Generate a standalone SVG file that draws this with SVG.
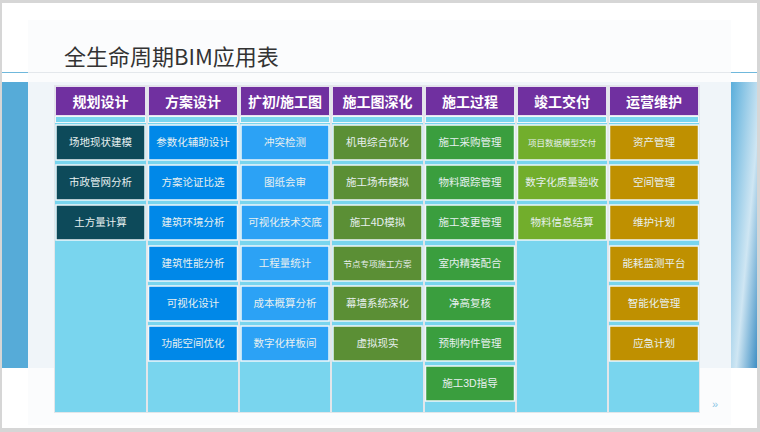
<svg xmlns="http://www.w3.org/2000/svg" width="760" height="432" viewBox="0 0 760 432">
<defs>
<style>
.h{fill:#7030A0;stroke:#e6e0ee;stroke-width:1}
.ht{font-family:"Liberation Sans","Noto Sans CJK SC",sans-serif;font-size:14px;font-weight:bold;fill:#fff;text-anchor:middle}
.bg{fill:#79D5EE}
.c{stroke:#eef6fa;stroke-width:1.5}
.t{font-family:"Liberation Sans","Noto Sans CJK SC",sans-serif;font-size:10.5px;fill:#e8f0f0;text-anchor:middle}
.s{font-size:8.5px}
</style>
<linearGradient id="rg" x1="0" y1="0" x2="1" y2="1"><stop offset="0" stop-color="#5aaedb"/><stop offset="0.6" stop-color="#cfe6f3"/><stop offset="1" stop-color="#3e8fc4"/></linearGradient>
</defs>
<rect width="760" height="432" fill="#d6d6d6"/>
<rect x="2" y="3" width="755" height="425" fill="#fff"/>
<rect x="2" y="82" width="26" height="286" fill="#56ABD8"/>
<rect x="731" y="82" width="26" height="286" fill="url(#rg)"/>
<rect x="28" y="20" width="703" height="405" fill="#fbfcfd"/>
<rect x="28" y="82" width="703" height="286" fill="#f0f5f9"/>
<line x1="2" y1="72.5" x2="757" y2="72.5" stroke="#6fb8dc" stroke-width="1"/>
<line x1="28" y1="72.5" x2="731" y2="72.5" stroke="#e4e8ec" stroke-width="1"/>
<text x="64" y="65" font-family="'Noto Sans CJK SC',sans-serif" font-size="22" fill="#333">全生命周期BIM应用表</text>
<text x="712" y="408" font-family="'Liberation Sans',sans-serif" font-size="11" fill="#8cc7e6">»</text>
<rect x="54" y="85" width="646" height="328" fill="#e2e6ea"/>
<g id="col1">
<rect class="bg" x="55" y="86" width="91" height="326"/>
<rect class="h" x="55.5" y="86.5" width="90" height="29"/><text class="ht" x="100.5" y="107">规划设计</text>
<rect x="55" y="116" width="91" height="7" fill="#f0f6f9"/><rect class="bg" x="56" y="117" width="89" height="5"/>
<rect class="c" x="56" y="125" width="89" height="35" fill="#0D4A5A"/><text class="t" x="100.5" y="146">场地现状建模</text>
<rect class="c" x="56" y="165" width="89" height="35" fill="#0D4A5A"/><text class="t" x="100.5" y="186">市政管网分析</text>
<rect class="c" x="56" y="205" width="89" height="35" fill="#0D4A5A"/><text class="t" x="100.5" y="226">土方量计算</text>
</g>
<g id="col2">
<rect class="bg" x="148" y="86" width="90" height="326"/>
<rect class="h" x="148.5" y="86.5" width="89" height="29"/><text class="ht" x="193" y="107">方案设计</text>
<rect x="148" y="116" width="90" height="7" fill="#f0f6f9"/><rect class="bg" x="149" y="117" width="88" height="5"/>
<rect class="c" x="148.5" y="125" width="89" height="35" fill="#0088E8"/><text class="t" x="193" y="146">参数化辅助设计</text>
<rect class="c" x="148.5" y="165" width="89" height="35" fill="#0088E8"/><text class="t" x="193" y="186">方案论证比选</text>
<rect class="c" x="148.5" y="205" width="89" height="35" fill="#0088E8"/><text class="t" x="193" y="226">建筑环境分析</text>
<rect class="c" x="148.5" y="246" width="89" height="35" fill="#0088E8"/><text class="t" x="193" y="267">建筑性能分析</text>
<rect class="c" x="148.5" y="286" width="89" height="35" fill="#0088E8"/><text class="t" x="193" y="307">可视化设计</text>
<rect class="c" x="148.5" y="326" width="89" height="35" fill="#0088E8"/><text class="t" x="193" y="347">功能空间优化</text>
</g>
<g id="col3">
<rect class="bg" x="240" y="86" width="90" height="326"/>
<rect class="h" x="240.5" y="86.5" width="89" height="29"/><text class="ht" x="285" y="107">扩初/施工图</text>
<rect x="240" y="116" width="90" height="7" fill="#f0f6f9"/><rect class="bg" x="241" y="117" width="88" height="5"/>
<rect class="c" x="241" y="125" width="88" height="35" fill="#2CA2F5"/><text class="t" x="285" y="146">冲突检测</text>
<rect class="c" x="241" y="165" width="88" height="35" fill="#2CA2F5"/><text class="t" x="285" y="186">图纸会审</text>
<rect class="c" x="241" y="205" width="88" height="35" fill="#2CA2F5"/><text class="t" x="285" y="226">可视化技术交底</text>
<rect class="c" x="241" y="246" width="88" height="35" fill="#2CA2F5"/><text class="t" x="285" y="267">工程量统计</text>
<rect class="c" x="241" y="286" width="88" height="35" fill="#2CA2F5"/><text class="t" x="285" y="307">成本概算分析</text>
<rect class="c" x="241" y="326" width="88" height="35" fill="#2CA2F5"/><text class="t" x="285" y="347">数字化样板间</text>
</g>
<g id="col4">
<rect class="bg" x="332" y="86" width="91" height="326"/>
<rect class="h" x="332.5" y="86.5" width="90" height="29"/><text class="ht" x="377.5" y="107">施工图深化</text>
<rect x="332" y="116" width="91" height="7" fill="#f0f6f9"/><rect class="bg" x="333" y="117" width="89" height="5"/>
<rect class="c" x="333" y="125" width="89" height="35" fill="#5B8F35"/><text class="t" x="377.5" y="146">机电综合优化</text>
<rect class="c" x="333" y="165" width="89" height="35" fill="#5B8F35"/><text class="t" x="377.5" y="186">施工场布模拟</text>
<rect class="c" x="333" y="205" width="89" height="35" fill="#5B8F35"/><text class="t" x="377.5" y="226">施工4D模拟</text>
<rect class="c" x="333" y="246" width="89" height="35" fill="#5B8F35"/><text class="t s" x="377.5" y="267">节点专项施工方案</text>
<rect class="c" x="333" y="286" width="89" height="35" fill="#5B8F35"/><text class="t" x="377.5" y="307">幕墙系统深化</text>
<rect class="c" x="333" y="326" width="89" height="35" fill="#5B8F35"/><text class="t" x="377.5" y="347">虚拟现实</text>
</g>
<g id="col5">
<rect class="bg" x="425" y="86" width="90" height="326"/>
<rect class="h" x="425.5" y="86.5" width="89" height="29"/><text class="ht" x="470" y="107">施工过程</text>
<rect x="425" y="116" width="90" height="7" fill="#f0f6f9"/><rect class="bg" x="426" y="117" width="88" height="5"/>
<rect class="c" x="425.5" y="125" width="89" height="35" fill="#3A9E3E"/><text class="t" x="470" y="146">施工采购管理</text>
<rect class="c" x="425.5" y="165" width="89" height="35" fill="#3A9E3E"/><text class="t" x="470" y="186">物料跟踪管理</text>
<rect class="c" x="425.5" y="205" width="89" height="35" fill="#3A9E3E"/><text class="t" x="470" y="226">施工变更管理</text>
<rect class="c" x="425.5" y="246" width="89" height="35" fill="#3A9E3E"/><text class="t" x="470" y="267">室内精装配合</text>
<rect class="c" x="425.5" y="286" width="89" height="35" fill="#3A9E3E"/><text class="t" x="470" y="307">净高复核</text>
<rect class="c" x="425.5" y="326" width="89" height="35" fill="#3A9E3E"/><text class="t" x="470" y="347">预制构件管理</text>
<rect class="c" x="425.5" y="366" width="89" height="35" fill="#3A9E3E"/><text class="t" x="470" y="387">施工3D指导</text>
</g>
<g id="col6">
<rect class="bg" x="517" y="86" width="90" height="326"/>
<rect class="h" x="517.5" y="86.5" width="89" height="29"/><text class="ht" x="562" y="107">竣工交付</text>
<rect x="517" y="116" width="90" height="7" fill="#f0f6f9"/><rect class="bg" x="518" y="117" width="88" height="5"/>
<rect class="c" x="517.5" y="125" width="89" height="35" fill="#72AE2C"/><text class="t s" x="562" y="146">项目数据模型交付</text>
<rect class="c" x="517.5" y="165" width="89" height="35" fill="#72AE2C"/><text class="t" x="562" y="186">数字化质量验收</text>
<rect class="c" x="517.5" y="205" width="89" height="35" fill="#72AE2C"/><text class="t" x="562" y="226">物料信息结算</text>
</g>
<g id="col7">
<rect class="bg" x="609" y="86" width="90" height="326"/>
<rect class="h" x="609.5" y="86.5" width="89" height="29"/><text class="ht" x="654" y="107">运营维护</text>
<rect x="609" y="116" width="90" height="7" fill="#f0f6f9"/><rect class="bg" x="610" y="117" width="88" height="5"/>
<rect class="c" x="609.5" y="125" width="89" height="35" fill="#BF9000"/><text class="t" x="654" y="146">资产管理</text>
<rect class="c" x="609.5" y="165" width="89" height="35" fill="#BF9000"/><text class="t" x="654" y="186">空间管理</text>
<rect class="c" x="609.5" y="205" width="89" height="35" fill="#BF9000"/><text class="t" x="654" y="226">维护计划</text>
<rect class="c" x="609.5" y="246" width="89" height="35" fill="#BF9000"/><text class="t" x="654" y="267">能耗监测平台</text>
<rect class="c" x="609.5" y="286" width="89" height="35" fill="#BF9000"/><text class="t" x="654" y="307">智能化管理</text>
<rect class="c" x="609.5" y="326" width="89" height="35" fill="#BF9000"/><text class="t" x="654" y="347">应急计划</text>
</g>
<g id="connectors"/>
</svg>
